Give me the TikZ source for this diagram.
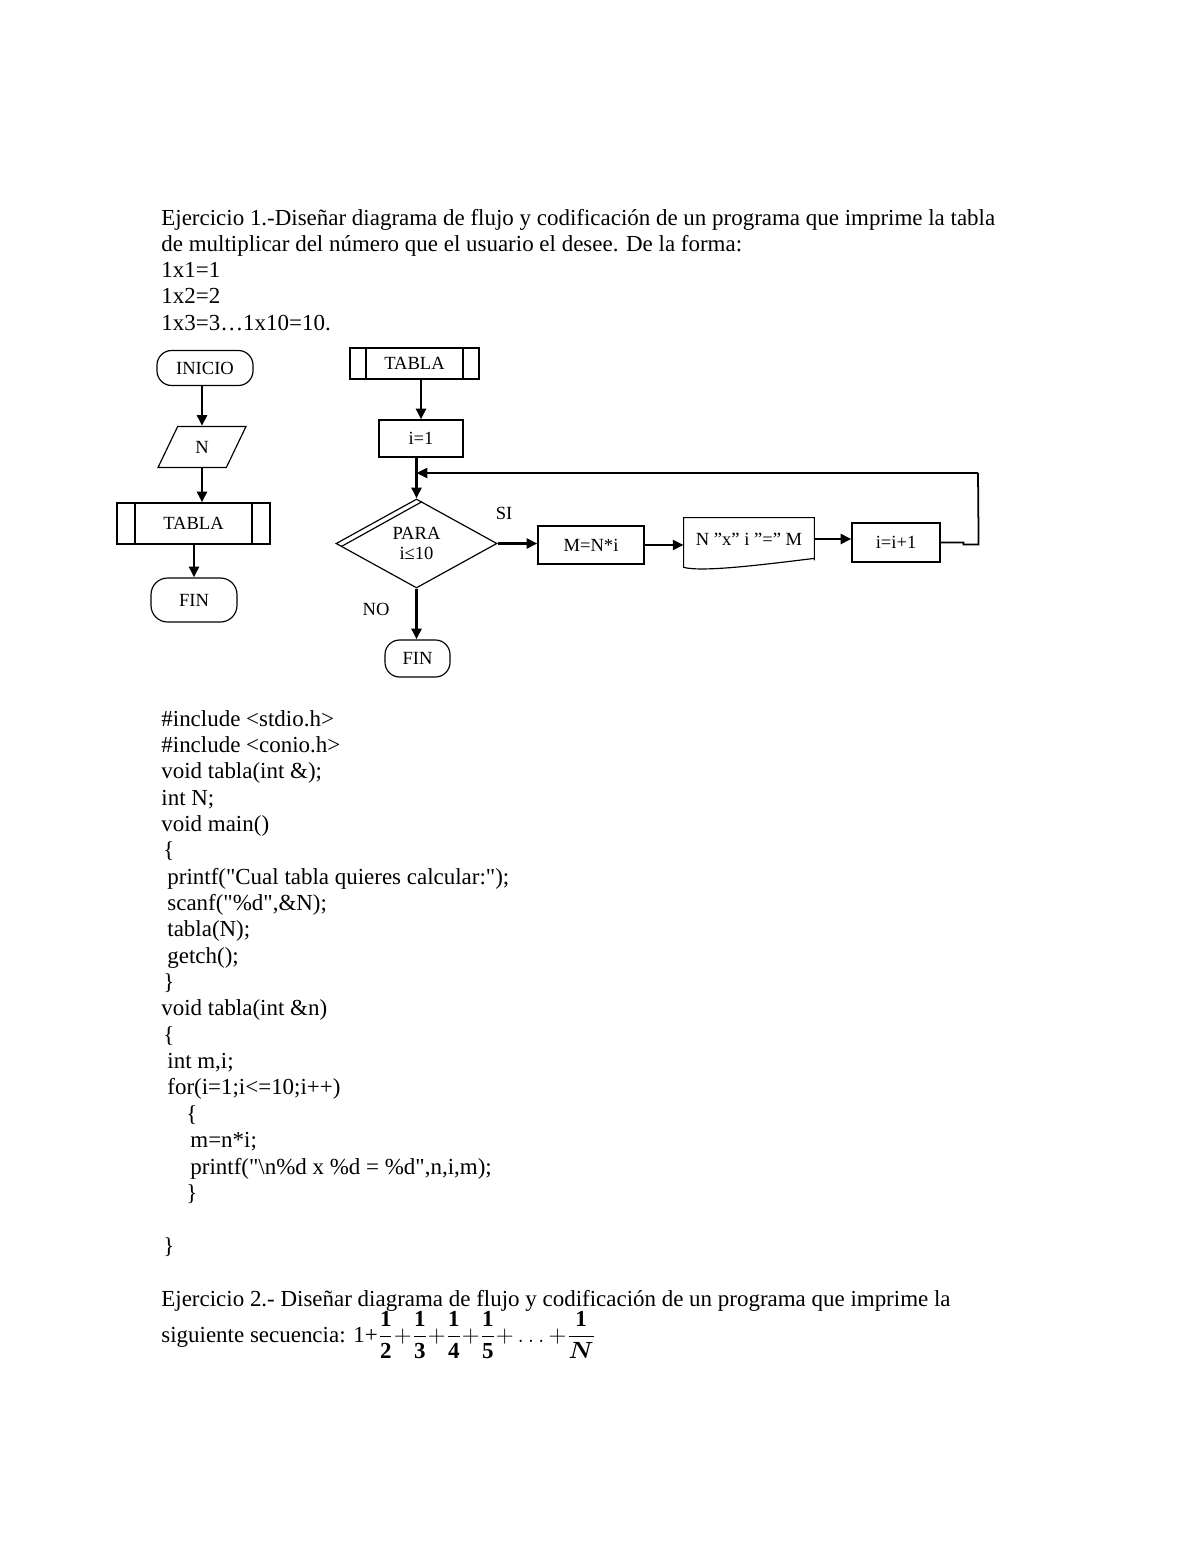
\documentclass[tikz,border=0pt]{standalone}
\usepackage{amsmath}
\usepackage{fontspec}
\setmainfont{Liberation Serif}[Ligatures=TeXOff]
\usetikzlibrary{arrows.meta, shapes.geometric, calc}

\newcommand{\px}[1]{#1*0.0179917cm}

\tikzset{
  txt/.style={anchor=base west, inner sep=0pt, font=\fontsize{11.75}{14}\selectfont},
  flow/.style={draw, line width=0.6pt, inner sep=0pt, font=\fontsize{9.5}{11}\selectfont},
  term/.style={flow, rectangle, rounded corners=7.5pt},
  proc/.style={flow, rectangle},
  subproc/.style={flow, rectangle,
    path picture={
      \draw[line width=0.6pt] ([xshift=\px{#1}]path picture bounding box.north west) -- ([xshift=\px{#1}]path picture bounding box.south west);
      \draw[line width=0.6pt] ([xshift=-\px{#1}]path picture bounding box.north east) -- ([xshift=-\px{#1}]path picture bounding box.south east);
    }},
  inout/.style={flow, trapezium, trapezium left angle=66, trapezium right angle=114, trapezium stretches=true},
  decision/.style={flow, diamond, align=center},
  docbox/.style={inner sep=0pt, font=\fontsize{9.5}{11}\selectfont},
  conn/.style={->, line width=1.4pt},
  lbl/.style={inner sep=0pt, font=\fontsize{9.5}{11}\selectfont}
}

\begin{document}
\begin{tikzpicture}[x=0.0179917cm, y=-0.0179917cm, >={Triangle[length=5.5pt,width=5pt]}]
\useasboundingbox (0,0) rectangle (1200,1553);

% enunciado
\node[txt] (e1) at (161,226) {Ejercicio 1.-Diseñar diagrama de flujo y codificación de un programa que imprime la tabla};
\node[txt] (e2) at (161,252) {de multiplicar del número que el usuario el desee. De la forma:};
\node[txt] (e3) at (161,278) {1x1=1};
\node[txt] (e4) at (161,304) {1x2=2};
\node[txt] (e5) at (161,330) {1x3=3…1x10=10.};

% diagrama principal
\node[term, minimum width=\px{96}, minimum height=\px{35}] (inicio) at (205,368) {INICIO};
\node[inout, minimum width=\px{88}, minimum height=\px{41}] (leer) at (202,447) {N};
\node[subproc=18, minimum width=\px{153}, minimum height=\px{41}] (tablaA) at (193.5,523.5) {TABLA};
\node[term, minimum width=\px{86}, minimum height=\px{44}, rounded corners=8.5pt] (finA) at (194,600) {FIN};

\draw[conn] (inicio.south -| leer.north) -- (leer.north);
\draw[conn] (leer.south) -- (leer.south |- tablaA.north);
\draw[conn] (tablaA.south -| finA.north) -- (finA.north);

% subrutina TABLA
\node[subproc=16, minimum width=\px{129}, minimum height=\px{31}] (tablaB) at (414.5,363.5) {TABLA};
\node[proc, minimum width=\px{84}, minimum height=\px{37}] (ione) at (421,438.5) {i=1};
\node[decision, minimum width=\px{161}, minimum height=\px{89}] (para) at (416.5,543.5) {PARA\\[-1pt]i≤10};
\node[term, minimum width=\px{65}, minimum height=\px{37}] (finB) at (417.5,658.5) {FIN};
\node[proc, minimum width=\px{106}, minimum height=\px{38}] (mult) at (591,545) {M=N*i};
\node[docbox, minimum width=\px{130}, minimum height=\px{42}] (impr) at (749,539) {N ”x” i ”=” M};
\node[proc, minimum width=\px{88}, minimum height=\px{39}] (incr) at (896,542.5) {i=i+1};

% contorno del documento y linea doble del ciclo
\draw[line width=0.6pt] (impr.south east) -- (impr.north east) -- (impr.north west)
  -- ([yshift=-\px{7}]impr.south west) .. controls +(20,5) and +(-50,6) .. ([yshift=\px{2}]impr.south east);
\draw[line width=0.6pt] ($(para.west)!0.07!(para.south)$) -- ($(para.north)!0.07!(para.east)$);

\node[lbl] (si) at (504,513) {SI};
\node[lbl] (no) at (376,609) {NO};

\draw[conn] (tablaB.south -| ione.north) -- (ione.north);
\draw[conn] (ione.south -| para.north) -- (para.north);
\draw[conn] (para.east) -- (para.east -| mult.west);
\draw[conn] (mult.east) -- (mult.east -| impr.west);
\draw[conn] (impr.east) -- (impr.east -| incr.west);
\draw[conn] (para.south) -- (para.south |- finB.north);

% regreso del ciclo
\coordinate (back) at (978,473);
\coordinate (join) at (para.north |- back);
\draw[line width=0.9pt] (incr.east) -- ++(23,0) -- ++(0,2) -- ++(15,0) -- (back);
\draw[conn] (back) -- (join);

% codigo
\node[txt] (c0) at (161,726) {\#include <stdio.h>};
\node[txt] (c1) at (161,752.4) {\#include <conio.h>};
\node[txt] (c2) at (161,778.7) {void tabla(int \&);};
\node[txt] (c3) at (161,805) {int N;};
\node[txt] (c4) at (161,831.4) {void main()};
\node[txt] (c5) at (163,857.8) {\{};
\node[txt] (c6) at (167,884.1) {printf("Cual tabla quieres calcular:");};
\node[txt] (c7) at (167,910.5) {scanf("\%d",\&N);};
\node[txt] (c8) at (167,936.8) {tabla(N);};
\node[txt] (c9) at (167,963.2) {getch();};
\node[txt] (c10) at (163,989.5) {\}};
\node[txt] (c11) at (161,1015.9) {void tabla(int \&n)};
\node[txt] (c12) at (163,1042.2) {\{};
\node[txt] (c13) at (167,1068.6) {int m,i;};
\node[txt] (c14) at (167,1094.9) {for(i=1;i<=10;i++)};
\node[txt] (c15) at (186,1121.3) {\{};
\node[txt] (c16) at (190,1147.6) {m=n*i;};
\node[txt] (c17) at (190,1174) {printf("\textbackslash n\%d x \%d = \%d",n,i,m);};
\node[txt] (c18) at (186,1200.3) {\}};
\node[txt] (c20) at (163,1253) {\}};

% ejercicio 2
\node[txt] (f1) at (161,1306) {Ejercicio 2.- Diseñar diagrama de flujo y codificación de un programa que imprime la};
\node[txt] (f2) at (161,1342) {siguiente secuencia: 1+$\dfrac{\mathbf{1}}{\mathbf{2}}{+}\dfrac{\mathbf{1}}{\mathbf{3}}{+}\dfrac{\mathbf{1}}{\mathbf{4}}{+}\dfrac{\mathbf{1}}{\mathbf{5}}{+}\ldots{+}\dfrac{\mathbf{1}}{\boldsymbol{N}}$};
\end{tikzpicture}
\end{document}
